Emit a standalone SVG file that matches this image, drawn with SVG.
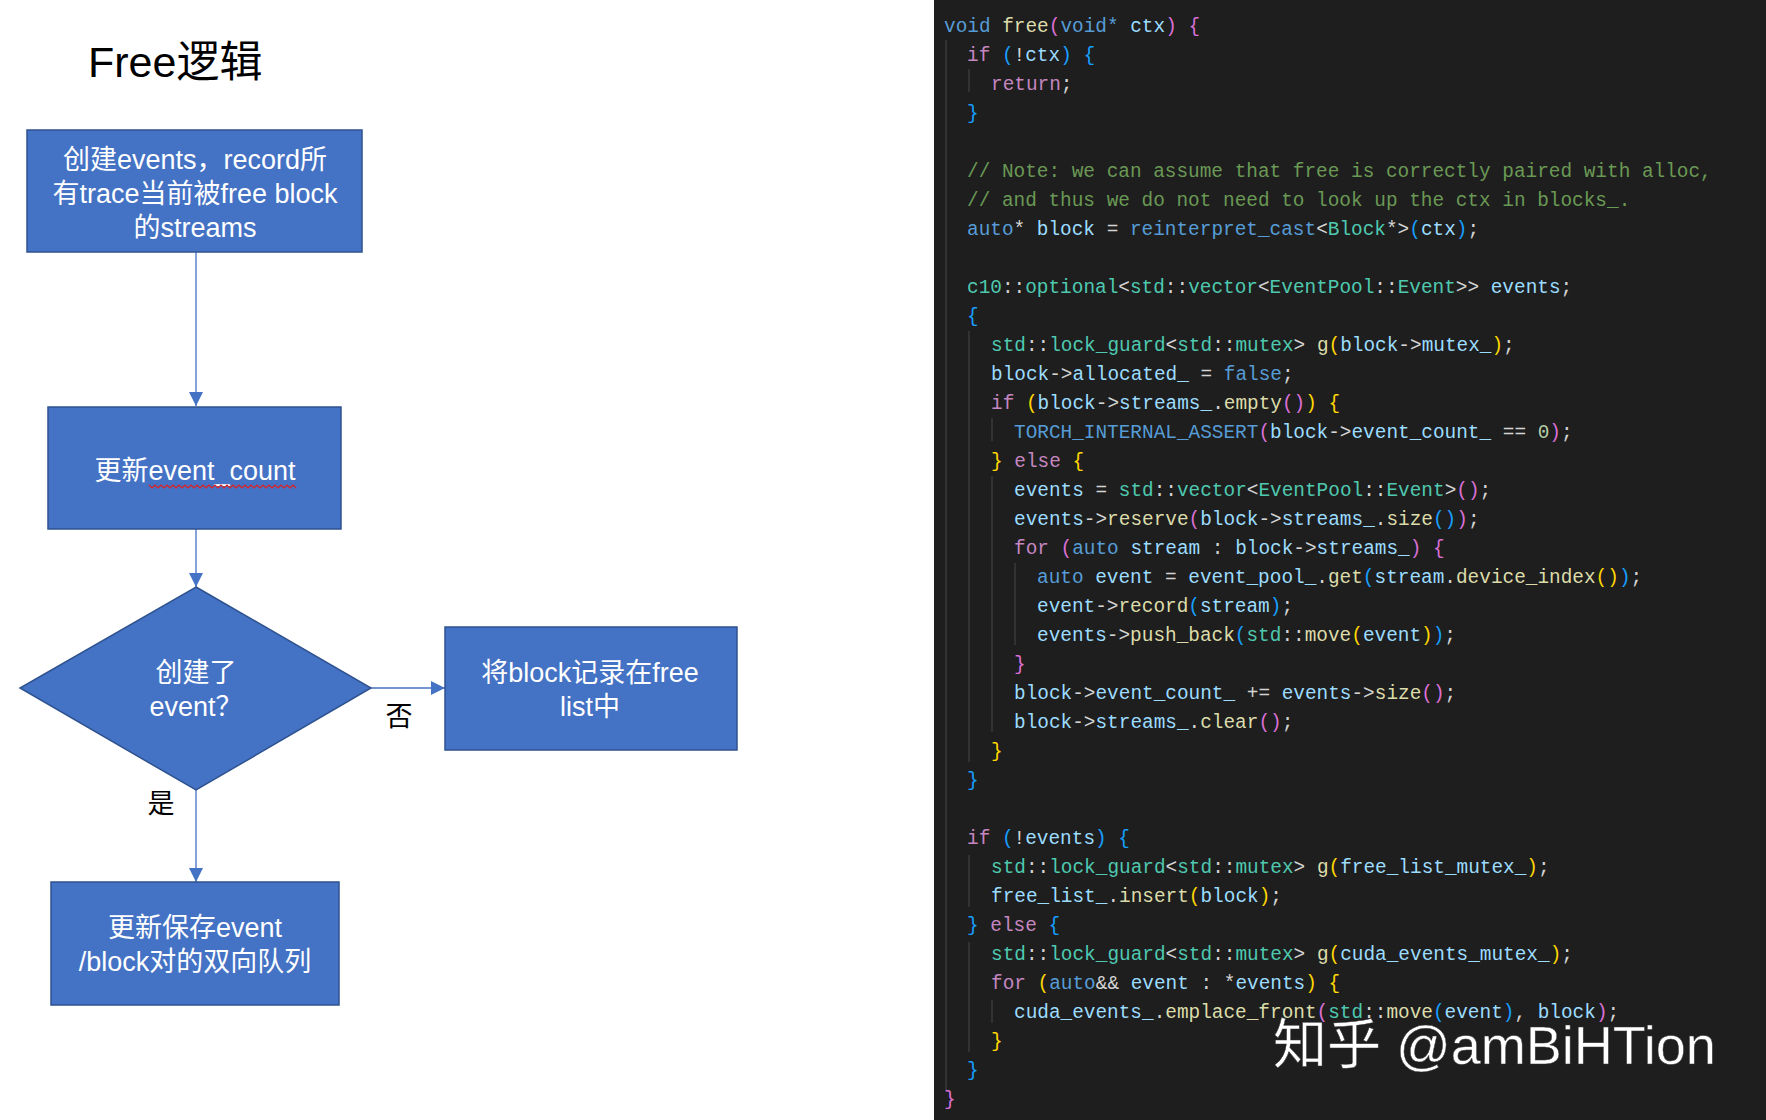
<svg xmlns="http://www.w3.org/2000/svg" width="1766" height="1120" viewBox="0 0 1766 1120">
<defs>
<marker id="ah" viewBox="0 0 10 10" refX="10" refY="5" markerWidth="7" markerHeight="7" orient="auto" markerUnits="userSpaceOnUse"><path d="M0,0 L10,5 L0,10 z" fill="#4472C4"/></marker>
<marker id="ah2" viewBox="0 0 10 10" refX="10" refY="5" markerWidth="14" markerHeight="14" orient="auto" markerUnits="userSpaceOnUse"><path d="M0,0 L10,5 L0,10 z" fill="#4472C4"/></marker>
</defs>
<style>
.box{fill:#4472C4;stroke:#2F528F;stroke-width:1.5}
.lt{font-family:"Liberation Sans","Noto Sans CJK SC",sans-serif;font-size:27px;fill:#fff;text-anchor:middle}
.lb{font-family:"Liberation Sans","Noto Sans CJK SC",sans-serif;font-size:27px;fill:#000;text-anchor:middle}
.cn{stroke:#4472C4;stroke-width:1.3;fill:none}
.code{font-family:"Liberation Mono","DejaVu Sans Mono",monospace;font-size:19.4px;fill:#D4D4D4;white-space:pre}
.k{fill:#569CD6}.c{fill:#C586C0}.f{fill:#DCDCAA}.v{fill:#9CDCFE}.t{fill:#4EC9B0}.m{fill:#6A9955}.n{fill:#B5CEA8}
.b1{fill:#FFD700}.b2{fill:#DA70D6}.b3{fill:#179FFF}
.g{stroke:#404040;stroke-width:1.2}
</style>
<rect width="1766" height="1120" fill="#fff"/>
<text x="88" y="77" style="font-family:'Liberation Sans','Noto Sans CJK SC',sans-serif;font-size:43px;fill:#000">Free逻辑</text>

<g id="connectors">
<line class="cn" x1="196" y1="252" x2="196" y2="406" marker-end="url(#ah2)"/>
<line class="cn" x1="196" y1="529" x2="196" y2="587" marker-end="url(#ah2)"/>
<line class="cn" x1="371" y1="688" x2="445" y2="688" marker-end="url(#ah2)"/>
<line class="cn" x1="196" y1="790" x2="196" y2="882" marker-end="url(#ah2)"/>
<text class="lb" x="399" y="726">否</text>
<text class="lb" x="161" y="813">是</text>
</g>

<g id="n1"><rect class="box" x="27" y="130" width="335" height="122"/>
<text class="lt" x="195" y="169">创建events，record所</text>
<text class="lt" x="195" y="203">有trace当前被free block</text>
<text class="lt" x="195" y="237">的streams</text></g>
<g id="n2"><rect class="box" x="48" y="407" width="293" height="122"/>
<text class="lt" x="195" y="480">更新event_count</text>
<path d="M149,485 l3,3 l3,-3 l3,3 l3,-3 l3,3 l3,-3 l3,3 l3,-3 l3,3 l3,-3 l3,3 l3,-3 l3,3 l3,-3 l3,3 l3,-3 l3,3 l3,-3 l3,3 l3,-3 l3,3 l3,-3 l3,3 l3,-3 l3,3 l3,-3 l3,3 l3,-3 l3,3 l3,-3 l3,3 l3,-3 l3,3 l3,-3 l3,3 l3,-3 l3,3 l3,-3 l3,3 l3,-3 l3,3 l3,-3 l3,3 l3,-3 l3,3 l3,-3 l3,3 l3,-3 l3,3" fill="none" stroke="#e02020" stroke-width="1.2"/></g>
<g id="n3"><polygon class="box" points="196,587 371,688 196,790 20,688"/>
<text class="lt" x="196" y="682">创建了</text>
<text class="lt" x="196" y="716">event？</text></g>
<g id="n4"><rect class="box" x="445" y="627" width="292" height="123"/>
<text class="lt" x="590" y="682">将block记录在free</text>
<text class="lt" x="590" y="716">list中</text></g>
<g id="n5"><rect class="box" x="51" y="882" width="288" height="123"/>
<text class="lt" x="195" y="937">更新保存event</text>
<text class="lt" x="195" y="971">/block对的双向队列</text></g>

<g id="code">
<rect x="934" y="0" width="832" height="1120" fill="#1E1E1E"/>
<line class="g" x1="946" y1="40" x2="946" y2="1090"/>
<line class="g" x1="969" y1="69" x2="969" y2="92"/>
<line class="g" x1="969" y1="331" x2="969" y2="762"/>
<line class="g" x1="992" y1="418" x2="992" y2="441"/>
<line class="g" x1="992" y1="476" x2="992" y2="732"/>
<line class="g" x1="1015" y1="563" x2="1015" y2="645"/>
<line class="g" x1="969" y1="855" x2="969" y2="907"/>
<line class="g" x1="969" y1="942" x2="969" y2="1052"/>
<line class="g" x1="992" y1="1000" x2="992" y2="1023"/>
<text class="code" x="944" y="32"><tspan class="k">void</tspan> <tspan class="f">free</tspan><tspan class="b2">(</tspan><tspan class="k">void*</tspan> <tspan class="v">ctx</tspan><tspan class="b2">)</tspan> <tspan class="b2">{</tspan></text>
<text class="code" x="967" y="61"><tspan class="c">if</tspan> <tspan class="b3">(</tspan>!<tspan class="v">ctx</tspan><tspan class="b3">)</tspan> <tspan class="b3">{</tspan></text>
<text class="code" x="991" y="90"><tspan class="c">return</tspan>;</text>
<text class="code" x="967" y="119"><tspan class="b3">}</tspan></text>
<text class="code m" x="967" y="177">// Note: we can assume that free is correctly paired with alloc,</text>
<text class="code m" x="967" y="206">// and thus we do not need to look up the ctx in blocks_.</text>
<text class="code" x="967" y="235"><tspan class="k">auto</tspan>* <tspan class="v">block</tspan> = <tspan class="k">reinterpret_cast</tspan>&lt;<tspan class="t">Block</tspan>*&gt;<tspan class="b3">(</tspan><tspan class="v">ctx</tspan><tspan class="b3">)</tspan>;</text>
<text class="code" x="967" y="293"><tspan class="t">c10</tspan>::<tspan class="t">optional</tspan>&lt;<tspan class="t">std</tspan>::<tspan class="t">vector</tspan>&lt;<tspan class="t">EventPool</tspan>::<tspan class="t">Event</tspan>&gt;&gt; <tspan class="v">events</tspan>;</text>
<text class="code" x="967" y="322"><tspan class="b3">{</tspan></text>
<text class="code" x="991" y="351"><tspan class="t">std</tspan>::<tspan class="t">lock_guard</tspan>&lt;<tspan class="t">std</tspan>::<tspan class="t">mutex</tspan>&gt; <tspan class="f">g</tspan><tspan class="b1">(</tspan><tspan class="v">block</tspan>-&gt;<tspan class="v">mutex_</tspan><tspan class="b1">)</tspan>;</text>
<text class="code" x="991" y="380"><tspan class="v">block</tspan>-&gt;<tspan class="v">allocated_</tspan> = <tspan class="k">false</tspan>;</text>
<text class="code" x="991" y="409"><tspan class="c">if</tspan> <tspan class="b1">(</tspan><tspan class="v">block</tspan>-&gt;<tspan class="v">streams_</tspan>.<tspan class="f">empty</tspan><tspan class="b2">()</tspan><tspan class="b1">)</tspan> <tspan class="b1">{</tspan></text>
<text class="code" x="1014" y="438"><tspan class="k">TORCH_INTERNAL_ASSERT</tspan><tspan class="b2">(</tspan><tspan class="v">block</tspan>-&gt;<tspan class="v">event_count_</tspan> == <tspan class="n">0</tspan><tspan class="b2">)</tspan>;</text>
<text class="code" x="991" y="467"><tspan class="b1">}</tspan> <tspan class="c">else</tspan> <tspan class="b1">{</tspan></text>
<text class="code" x="1014" y="496"><tspan class="v">events</tspan> = <tspan class="t">std</tspan>::<tspan class="t">vector</tspan>&lt;<tspan class="t">EventPool</tspan>::<tspan class="t">Event</tspan>&gt;<tspan class="b2">()</tspan>;</text>
<text class="code" x="1014" y="525"><tspan class="v">events</tspan>-&gt;<tspan class="f">reserve</tspan><tspan class="b2">(</tspan><tspan class="v">block</tspan>-&gt;<tspan class="v">streams_</tspan>.<tspan class="f">size</tspan><tspan class="b3">()</tspan><tspan class="b2">)</tspan>;</text>
<text class="code" x="1014" y="554"><tspan class="c">for</tspan> <tspan class="b2">(</tspan><tspan class="k">auto</tspan> <tspan class="v">stream</tspan> : <tspan class="v">block</tspan>-&gt;<tspan class="v">streams_</tspan><tspan class="b2">)</tspan> <tspan class="b2">{</tspan></text>
<text class="code" x="1037" y="583"><tspan class="k">auto</tspan> <tspan class="v">event</tspan> = <tspan class="v">event_pool_</tspan>.<tspan class="f">get</tspan><tspan class="b3">(</tspan><tspan class="v">stream</tspan>.<tspan class="f">device_index</tspan><tspan class="b1">()</tspan><tspan class="b3">)</tspan>;</text>
<text class="code" x="1037" y="612"><tspan class="v">event</tspan>-&gt;<tspan class="f">record</tspan><tspan class="b3">(</tspan><tspan class="v">stream</tspan><tspan class="b3">)</tspan>;</text>
<text class="code" x="1037" y="641"><tspan class="v">events</tspan>-&gt;<tspan class="f">push_back</tspan><tspan class="b3">(</tspan><tspan class="t">std</tspan>::<tspan class="f">move</tspan><tspan class="b1">(</tspan><tspan class="v">event</tspan><tspan class="b1">)</tspan><tspan class="b3">)</tspan>;</text>
<text class="code" x="1014" y="670"><tspan class="b2">}</tspan></text>
<text class="code" x="1014" y="699"><tspan class="v">block</tspan>-&gt;<tspan class="v">event_count_</tspan> += <tspan class="v">events</tspan>-&gt;<tspan class="f">size</tspan><tspan class="b2">()</tspan>;</text>
<text class="code" x="1014" y="728"><tspan class="v">block</tspan>-&gt;<tspan class="v">streams_</tspan>.<tspan class="f">clear</tspan><tspan class="b2">()</tspan>;</text>
<text class="code" x="991" y="757"><tspan class="b1">}</tspan></text>
<text class="code" x="967" y="786"><tspan class="b3">}</tspan></text>
<text class="code" x="967" y="844"><tspan class="c">if</tspan> <tspan class="b3">(</tspan>!<tspan class="v">events</tspan><tspan class="b3">)</tspan> <tspan class="b3">{</tspan></text>
<text class="code" x="991" y="873"><tspan class="t">std</tspan>::<tspan class="t">lock_guard</tspan>&lt;<tspan class="t">std</tspan>::<tspan class="t">mutex</tspan>&gt; <tspan class="f">g</tspan><tspan class="b1">(</tspan><tspan class="v">free_list_mutex_</tspan><tspan class="b1">)</tspan>;</text>
<text class="code" x="991" y="902"><tspan class="v">free_list_</tspan>.<tspan class="f">insert</tspan><tspan class="b1">(</tspan><tspan class="v">block</tspan><tspan class="b1">)</tspan>;</text>
<text class="code" x="967" y="931"><tspan class="b3">}</tspan> <tspan class="c">else</tspan> <tspan class="b3">{</tspan></text>
<text class="code" x="991" y="960"><tspan class="t">std</tspan>::<tspan class="t">lock_guard</tspan>&lt;<tspan class="t">std</tspan>::<tspan class="t">mutex</tspan>&gt; <tspan class="f">g</tspan><tspan class="b1">(</tspan><tspan class="v">cuda_events_mutex_</tspan><tspan class="b1">)</tspan>;</text>
<text class="code" x="991" y="989"><tspan class="c">for</tspan> <tspan class="b1">(</tspan><tspan class="k">auto</tspan>&amp;&amp; <tspan class="v">event</tspan> : *<tspan class="v">events</tspan><tspan class="b1">)</tspan> <tspan class="b1">{</tspan></text>
<text class="code" x="1014" y="1018"><tspan class="v">cuda_events_</tspan>.<tspan class="f">emplace_front</tspan><tspan class="b2">(</tspan><tspan class="t">std</tspan>::<tspan class="f">move</tspan><tspan class="b3">(</tspan><tspan class="v">event</tspan><tspan class="b3">)</tspan>, <tspan class="v">block</tspan><tspan class="b2">)</tspan>;</text>
<text class="code" x="991" y="1047"><tspan class="b1">}</tspan></text>
<text class="code" x="967" y="1076"><tspan class="b3">}</tspan></text>
<text class="code" x="944" y="1105"><tspan class="b2">}</tspan></text>
<text x="1273" y="1064" style="font-family:'Liberation Sans','Noto Sans CJK SC',sans-serif;font-size:54px;fill:#fff;stroke:#333;stroke-width:0.5">知乎 @amBiHTion</text>
</g>
</svg>
